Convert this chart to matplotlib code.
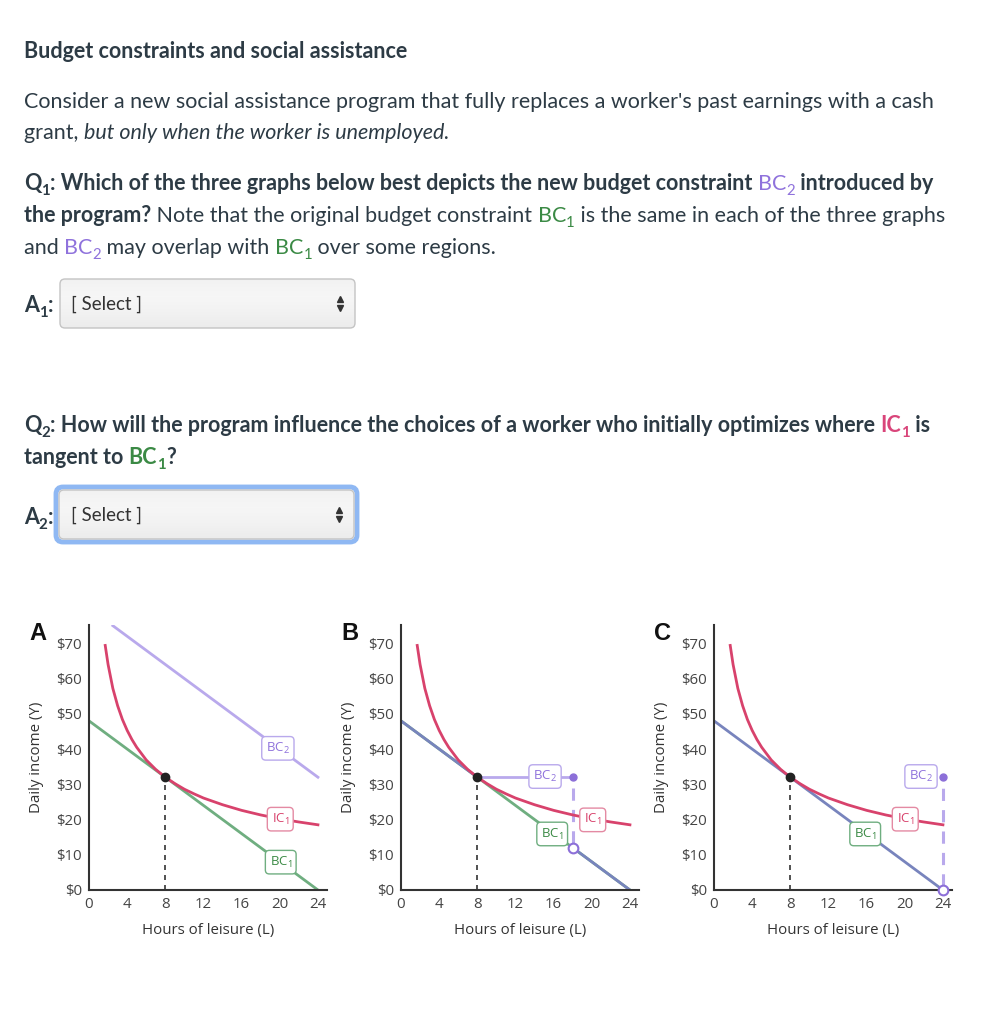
import numpy as np
import matplotlib
matplotlib.use('Agg')
import matplotlib.pyplot as plt
from matplotlib.patches import FancyBboxPatch
from matplotlib.font_manager import FontProperties

plt.rcParams['mathtext.default'] = 'regular'

# ---------------------------------------------------------------
# colours
# ---------------------------------------------------------------
INK = '#2d3b45'
PURPLE_TXT = '#8f72dc'
GREEN_TXT = '#3b8a45'
PINK_TXT = '#d9457a'

IC_COL = '#d8426c'
BC1_COL = '#6fae80'
BC2_COL = '#b9a9ec'
BC2_DOT = '#8c6fd8'
OVERLAP_COL = '#7884bd'

BODY = 'Lato'
CHART = 'Open Sans'

# ---------------------------------------------------------------
# data
# ---------------------------------------------------------------
leisure_ticks = [0, 4, 8, 12, 16, 20, 24]
income_ticks = [0, 10, 20, 30, 40, 50, 60, 70]

bc1_L = [0, 24]
bc1_Y = [48, 0]
opt_L, opt_Y = 8, 32

ic1_L = [1.7, 2.0, 2.5, 3.0, 3.5, 4.0, 4.5, 5.0, 6.0, 7.0, 8.0, 9.0, 10, 11, 12, 14, 16, 18, 20, 22, 24]
ic1_Y = [69.4, 64.0, 57.2, 52.3, 48.4, 45.3, 42.7, 40.5, 36.9, 34.2, 32.0, 30.2, 28.6, 27.3, 26.1,
         24.2, 22.6, 21.3, 20.2, 19.3, 18.5]

# panel A: BC2 shifted up parallel to BC1
bc2A_L = [2.5, 24]
bc2A_Y = [75, 32]

# panel B: grant only up to 18 h leisure
bc2B_L = [8, 18]
bc2B_Y = [32, 32]
jumpB_L, jumpB_top, jumpB_bot = 18, 32, 12

# panel C: grant only at 24 h leisure
jumpC_L, jumpC_top, jumpC_bot = 24, 32, 0

# label positions (L, Y) per panel
labels_A = {'BC2': (19.8, 40.2), 'IC1': (20.05, 20.1), 'BC1': (20.1, 7.9)}
labels_B = {'BC2': (15.1, 32.2), 'IC1': (20.1, 19.9), 'BC1': (15.85, 15.9)}
labels_C = {'BC2': (21.7, 32.2), 'IC1': (20.05, 20.1), 'BC1': (15.85, 15.9)}

# ---------------------------------------------------------------
fig = plt.figure(figsize=(9.82, 10.24), dpi=100)
W, H = 982, 1024
bg = fig.add_axes([0, 0, 1, 1])
bg.set_xlim(0, W)
bg.set_ylim(H, 0)
bg.axis('off')
renderer = fig.canvas.get_renderer()


def text_w(s, fp):
    w1, _, _ = renderer.get_text_width_height_descent(s + '|', fp, ismath=False)
    w2, _, _ = renderer.get_text_width_height_descent('|', fp, ismath=False)
    return w1 - w2


def rich(x, y, runs, size=15.5):
    # runs: (text, colour, weight, style, subscript)
    for txt, col, wt, st, sub in runs:
        fs = size * 0.70 if sub else size
        yy = y + size * 0.32 if sub else y
        fp = FontProperties(family=BODY, size=fs, weight=wt, style=st)
        bg.text(x, yy, txt, fontproperties=fp, color=col, va='baseline', ha='left')
        x += text_w(txt, fp)


N, B, I = 'normal', 'bold', 'italic'

rich(24, 58, [('Budget constraints and social assistance', INK, B, N, False)])
rich(24, 108, [("Consider a new social assistance program that fully replaces a worker's past earnings with a cash", INK, N, N, False)])
rich(24, 139, [('grant, ', INK, N, N, False), ('but only when the worker is unemployed.', INK, N, I, False)])

rich(24, 190, [('Q', INK, B, N, False), ('1', INK, B, N, True),
               (': Which of the three graphs below best depicts the new budget constraint ', INK, B, N, False),
               ('BC', PURPLE_TXT, N, N, False), ('2', PURPLE_TXT, N, N, True),
               (' introduced by', INK, B, N, False)])
rich(24, 222, [('the program?', INK, B, N, False),
               (' Note that the original budget constraint ', INK, N, N, False),
               ('BC', GREEN_TXT, N, N, False), ('1', GREEN_TXT, N, N, True),
               (' is the same in each of the three graphs', INK, N, N, False)])
rich(24, 254, [('and ', INK, N, N, False), ('BC', PURPLE_TXT, N, N, False), ('2', PURPLE_TXT, N, N, True),
               (' may overlap with ', INK, N, N, False), ('BC', GREEN_TXT, N, N, False),
               ('1', GREEN_TXT, N, N, True), (' over some regions.', INK, N, N, False)])

rich(24, 312, [('A', INK, B, N, False), ('1', INK, B, N, True), (':', INK, B, N, False)])

rich(24, 432, [('Q', INK, B, N, False), ('2', INK, B, N, True),
               (': How will the program influence the choices of a worker who initially optimizes where ', INK, B, N, False),
               ('IC', PINK_TXT, B, N, False), ('1', PINK_TXT, B, N, True), (' is', INK, B, N, False)])
rich(24, 464, [('tangent to ', INK, B, N, False), ('BC', GREEN_TXT, B, N, False),
               ('1', GREEN_TXT, B, N, True), ('?', INK, B, N, False)])

rich(24, 524, [('A', INK, B, N, False), ('2', INK, B, N, True), (':', INK, B, N, False)])


def select_box(x0, y0, x1, y1, tx, ty, focus=False):
    if focus:
        glow = FancyBboxPatch((x0 - 3, y0 - 3), x1 - x0 + 6, y1 - y0 + 6,
                              boxstyle='round,pad=0,rounding_size=7', fc='none',
                              ec='#8fb8f3', lw=3.5, zorder=1)
        bg.add_patch(glow)
    box = FancyBboxPatch((x0, y0), x1 - x0, y1 - y0, boxstyle='round,pad=0,rounding_size=5',
                         fc='none', ec='#c4c4c4', lw=1, zorder=3)
    bg.add_patch(box)
    grad = np.linspace(0, 1, 64)
    shade = 0.965 - 0.07 * np.abs(grad - 0.35) ** 1.3
    img = np.dstack([shade, shade, shade]).reshape(64, 1, 3)
    im = bg.imshow(img, extent=(x0, x1, y1, y0), aspect='auto', zorder=2, interpolation='bilinear')
    im.set_clip_path(box)
    bg.text(tx, ty, '[ Select ]', fontsize=13.5, family=BODY,
            color='#333333', va='baseline', zorder=4)
    ax_ = x1 - 15
    cy = (y0 + y1) / 2
    bg.plot([ax_], [cy - 4.5], marker='^', ms=4.5, color='#333333', zorder=4)
    bg.plot([ax_], [cy + 4.5], marker='v', ms=4.5, color='#333333', zorder=4)


select_box(60, 279, 355, 328, 71, 310)
select_box(59, 490, 354, 539, 71, 521, focus=True)

# ---------------------------------------------------------------
# charts
# ---------------------------------------------------------------
panel_left = [89, 401, 714]
panel_letters = ['A', 'B', 'C']
ax_w, ax_top, ax_bot = 238, 625, 890


def style_axis(ax, letter):
    ax.set_xlim(0, 24.95)
    ax.set_ylim(0, 75.2)
    for s in ['top', 'right']:
        ax.spines[s].set_visible(False)
    for s in ['left', 'bottom']:
        ax.spines[s].set_color('#333333')
        ax.spines[s].set_linewidth(1.5)
    ax.set_xticks(leisure_ticks)
    ax.set_xticklabels([str(v) for v in leisure_ticks])
    ax.set_yticks(income_ticks)
    ax.set_yticklabels([f'${v}' for v in income_ticks])
    ax.tick_params(length=0, labelsize=10.8, labelcolor='#444444', pad=5)
    for lab in ax.get_xticklabels() + ax.get_yticklabels():
        lab.set_family(CHART)
    ax.set_xlabel('Hours of leisure (L)', fontsize=10.8, family=CHART, color='#333333')
    ax.set_ylabel('Daily income (Y)', fontsize=10.8, family=CHART, color='#333333')
    ax.xaxis.set_label_coords(0.5, -0.125)
    ax.yaxis.set_label_coords(-0.19, 0.5)
    ax.text(-0.215, 1.012, letter, transform=ax.transAxes, fontsize=17, fontweight='bold',
            family='Liberation Sans', color='#111111', ha='center', va='top')


def draw_labels(ax, pos):
    kw = dict(ha='center', va='center', fontsize=9.5, family=CHART, zorder=6)
    box = 'round,pad=0.32,rounding_size=0.3'
    ax.text(*pos['BC2'], 'BC$_2$', color=PURPLE_TXT,
            bbox=dict(boxstyle=box, fc='white', ec=BC2_COL, lw=1), **kw)
    ax.text(*pos['IC1'], 'IC$_1$', color=IC_COL,
            bbox=dict(boxstyle=box, fc='white', ec='#e48aa3', lw=1), **kw)
    ax.text(*pos['BC1'], 'BC$_1$', color=GREEN_TXT,
            bbox=dict(boxstyle=box, fc='white', ec=BC1_COL, lw=1), **kw)


def optimum(ax):
    ax.plot([opt_L, opt_L], [0, opt_Y], color='#333333', lw=1.2, dashes=(3, 3), zorder=3)
    ax.plot([opt_L], [opt_Y], 'o', color='#222222', ms=6, zorder=7)


axes = []
for left, letter in zip(panel_left, panel_letters):
    ax = fig.add_axes([left / W, 1 - ax_bot / H, ax_w / W, (ax_bot - ax_top) / H])
    style_axis(ax, letter)
    axes.append(ax)

# A
ax = axes[0]
ax.plot(bc2A_L, bc2A_Y, color=BC2_COL, lw=2, zorder=2)
ax.plot(bc1_L, bc1_Y, color=BC1_COL, lw=2, zorder=2)
ax.plot(ic1_L, ic1_Y, color=IC_COL, lw=2, zorder=3)
optimum(ax)
draw_labels(ax, labels_A)

# B
ax = axes[1]
ax.plot(bc1_L, bc1_Y, color=BC1_COL, lw=2, zorder=2)
segL1 = [0, opt_L]
ax.plot(segL1, np.interp(segL1, bc1_L, bc1_Y), color=OVERLAP_COL, lw=2, zorder=2)
segL2 = [jumpB_L, 24]
ax.plot(segL2, np.interp(segL2, bc1_L, bc1_Y), color=OVERLAP_COL, lw=2, zorder=2)
ax.plot(bc2B_L, bc2B_Y, color=BC2_COL, lw=2, zorder=2)
ax.plot([jumpB_L, jumpB_L], [jumpB_bot + 1.2, jumpB_top], color=BC2_COL, lw=2.2, dashes=(4, 3), zorder=2)
ax.plot(ic1_L, ic1_Y, color=IC_COL, lw=2, zorder=3)
ax.plot([jumpB_L], [jumpB_top], 'o', color=BC2_DOT, ms=5, zorder=7)
ax.plot([jumpB_L], [jumpB_bot], 'o', mfc='white', mec=BC2_DOT, mew=1.5, ms=7, zorder=7)
optimum(ax)
draw_labels(ax, labels_B)

# C
ax = axes[2]
ax.plot(bc1_L, bc1_Y, color=OVERLAP_COL, lw=2, zorder=2)
ax.plot([jumpC_L, jumpC_L], [jumpC_bot + 1.2, jumpC_top], color=BC2_COL, lw=2.2, dashes=(4, 3), zorder=2)
ax.plot(ic1_L, ic1_Y, color=IC_COL, lw=2, zorder=3)
ax.plot([jumpC_L], [jumpC_top], 'o', color=BC2_DOT, ms=5, zorder=7, clip_on=False)
ax.plot([jumpC_L], [jumpC_bot], 'o', mfc='white', mec=BC2_DOT, mew=1.5, ms=7, zorder=7, clip_on=False)
optimum(ax)
draw_labels(ax, labels_C)

fig.savefig('out.png', dpi=100)
